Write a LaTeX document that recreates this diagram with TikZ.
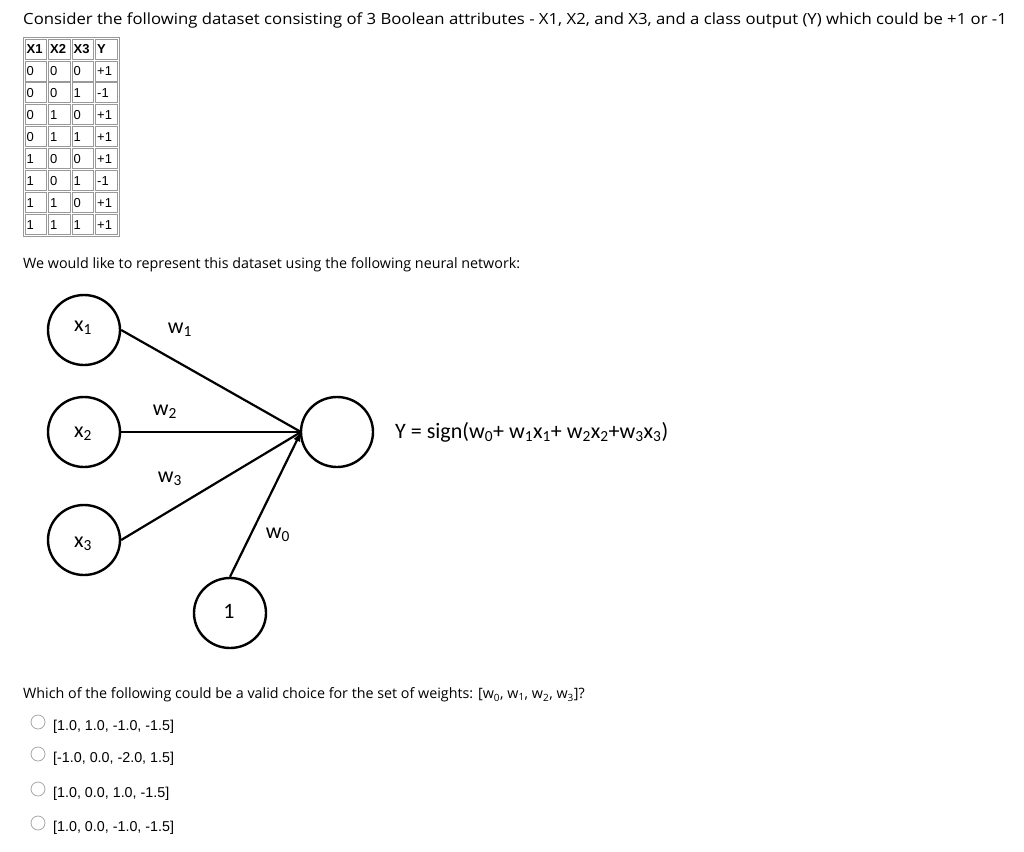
\documentclass[tikz,border=0pt]{standalone}
\usepackage{fontspec}
\usetikzlibrary{shapes.geometric}
\setmainfont{Open Sans}
\newfontfamily\arialf{Liberation Sans}
\newfontfamily\calf{Carlito}
\newcommand{\sbs}[1]{\textsubscript{#1}}
\begin{document}
\begin{tikzpicture}[x=1pt,y=-1pt,
  nd/.style={draw,line width=2.4pt,ellipse,minimum width=72pt,minimum height=70pt,inner sep=0pt},
  wl/.style={font=\calf\fontsize{22}{24}\selectfont},
  ln/.style={line width=2.2pt},
  cellb/.style={draw=gray!80,line width=0.8pt},
  tt/.style={anchor=west,inner sep=0pt,font=\fontsize{14.3}{17}\selectfont},
  opt/.style={anchor=west,inner sep=0pt,font=\arialf\fontsize{14.3}{16}\selectfont},
  rb/.style={draw=gray!70,line width=0.8pt,fill=white,circle,minimum size=14pt,inner sep=0pt}]
\useasboundingbox (0,0) rectangle (1024,851);
\node[anchor=west,inner sep=0pt,font=\fontsize{15.4}{18}\selectfont,xscale=1.085] (t1) at (23,20) {Consider the following dataset consisting of 3 Boolean attributes - X1, X2, and X3, and a class output (Y) which could be +1 or -1};
% table
\draw[cellb] (23,37) rectangle (119,236);
\foreach \r [count=\i from 0] in {{X1,X2,X3,Y},{0,0,0,+1},{0,0,1,-1},{0,1,0,+1},{0,1,1,+1},{1,0,0,+1},{1,0,1,-1},{1,1,0,+1},{1,1,1,+1}}{
  \foreach \c [count=\j from 0] in \r {
    \pgfmathsetmacro{\xl}{25+23.5*\j}
    \pgfmathsetmacro{\yt}{39+21.9*\i}
    \draw[cellb] (\xl,\yt) rectangle ++(21.5,20);
    \ifnum\i=0
      \node[anchor=west,inner sep=0pt,font=\arialf\bfseries\fontsize{13}{15}\selectfont] at (\xl+1.5,\yt+10) {\c};
    \else
      \node[anchor=west,inner sep=0pt,font=\arialf\fontsize{13}{15}\selectfont] at (\xl+1.5,\yt+10.5) {\c};
    \fi
  }
}
\node[tt] (t2) at (23,265) {We would like to represent this dataset using the following neural network:};
% network
\node[nd] (x1) at (84,330) {};
\node[nd] (x2) at (84,432) {};
\node[nd] (x3) at (84,540) {};
\node[nd] (y) at (337,432) {};
\node[nd] (b) at (230,613) {};
\node[wl] at (83,328) {x\sbs{1}};
\node[wl] at (83,434) {x\sbs{2}};
\node[wl] at (83,544) {x\sbs{3}};
\node[wl] at (229,611) {1};
\coordinate (j) at (301,432);
\draw[ln] (x1.east) -- (j);
\draw[ln] (x2.east) -- (j);
\draw[ln] (x3.east) -- (j);
\draw[ln,-latex] (b.north) -- (j);
\node[wl] at (180,330) {w\sbs{1}};
\node[wl] at (165,412) {w\sbs{2}};
\node[wl] at (170,479) {w\sbs{3}};
\node[wl] at (278,535) {w\sbs{0}};
\node[wl,anchor=west,inner sep=0pt] at (395,432) {Y = sign(w\sbs{0}+ w\sbs{1}x\sbs{1}+ w\sbs{2}x\sbs{2}+w\sbs{3}x\sbs{3})};
\node[tt] (q) at (23,695) {Which of the following could be a valid choice for the set of weights: [w\sbs{0}, w\sbs{1}, w\sbs{2}, w\sbs{3}]?};
\foreach \yy/\tx in {725/{[1.0, 1.0, -1.0, -1.5]},757/{[-1.0, 0.0, -2.0, 1.5]},792/{[1.0, 0.0, 1.0, -1.5]},826/{[1.0, 0.0, -1.0, -1.5]}}{
  \node[rb] at (38,\yy-3) {};
  \node[opt] at (53,\yy+2) {\tx};
}
\end{tikzpicture}
\end{document}
